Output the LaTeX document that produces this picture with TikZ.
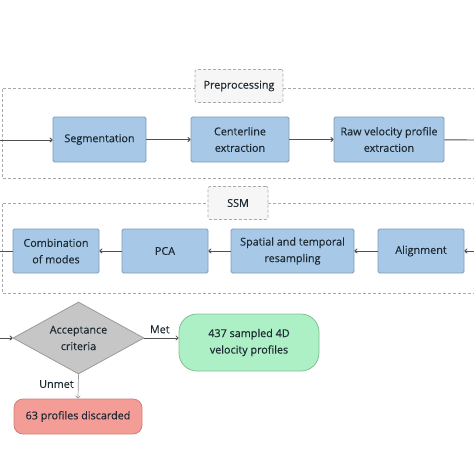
\documentclass[tikz,border=0pt]{standalone}
\usepackage{fontspec}
\setmainfont{Open Sans}[FakeBold=0.35]
\usetikzlibrary{shapes.geometric,arrows.meta}
\definecolor{bluefill}{HTML}{A7C9E7}
\definecolor{blueline}{HTML}{7E9CB8}
\definecolor{greenfill}{HTML}{AEF0C6}
\definecolor{greenline}{HTML}{80C090}
\definecolor{redfill}{HTML}{F49C96}
\definecolor{redline}{HTML}{D08078}
\definecolor{grayfill}{HTML}{C6C6C6}
\definecolor{grayline}{HTML}{9A9A9A}
\definecolor{framecol}{HTML}{AAAAAA}
\definecolor{labfill}{HTML}{F6F6F6}
\definecolor{arrcol}{HTML}{505050}
\definecolor{txt}{HTML}{1E2A33}
\tikzset{
  every node/.style={font=\fontsize{10.8}{16.5}\selectfont\color{txt}},
  procbox/.style={draw=blueline, fill=bluefill, line width=0.8pt, rounded corners=1.5pt, align=center, inner sep=0pt},
  framebox/.style={draw=framecol, dashed, line width=0.7pt, dash pattern=on 3pt off 2pt},
  labbox/.style={draw=framecol, fill=labfill, dashed, dash pattern=on 3pt off 2pt, line width=0.7pt, rounded corners=2pt, inner sep=0pt},
  flow/.style={draw=arrcol, line width=0.9pt, -{To[length=3pt,width=5pt]}},
  thinflow/.style={draw=grayline, line width=0.7pt, -{To[length=3pt,width=5pt]}},
}
\begin{document}
\begin{tikzpicture}[x=1pt,y=-1pt]
\useasboundingbox (0,0) rectangle (474,474);
% frames
\draw[framebox] (476,88) -- (2,88) -- (2,178) -- (476,178);
\draw[framebox] (476,203) -- (2,203) -- (2,293) -- (476,293);
\node[labbox, minimum width=88pt, minimum height=33pt] (lpre) at (239,86) {Preprocessing};
\node[labbox, minimum width=60pt, minimum height=33pt] (lssm) at (238,203) {SSM};
% row 1
\coordinate (in1) at (0,140);
\coordinate (out1) at (476,140);
\node[procbox, minimum width=93pt, minimum height=45pt] (seg) at (99.5,139.5) {Segmentation};
\node[procbox, minimum width=98pt, minimum height=45pt] (cen) at (240,139.5) {Centerline\\extraction};
\node[procbox, minimum width=110pt, minimum height=45pt] (raw) at (389,139.5) {Raw velocity profile\\extraction};
\draw[flow] (in1) -- (seg.west |- in1);
\draw[flow] (seg) -- (cen);
\draw[flow] (cen) -- (raw);
\draw[draw=arrcol, line width=0.9pt] (raw) -- (out1);
% row 2
\coordinate (in2) at (476,251);
\coordinate (out2) at (0,251);
\node[procbox, minimum width=86pt, minimum height=44pt] (com) at (56,251) {Combination\\of modes};
\node[procbox, minimum width=86pt, minimum height=44pt] (pca) at (165,251) {PCA};
\node[procbox, minimum width=123pt, minimum height=44pt] (spa) at (292.5,251) {Spatial and temporal\\resampling};
\node[procbox, minimum width=86pt, minimum height=44pt] (ali) at (421,251) {Alignment};
\draw[flow] (in2) -- (ali);
\draw[flow] (ali) -- (spa);
\draw[flow] (spa) -- (pca);
\draw[flow] (pca) -- (com);
\draw[draw=arrcol, line width=0.9pt] (com) -- (out2);
% row 3
\coordinate (in3) at (0,338);
\node[diamond, draw=grayline, fill=grayfill, line width=0.8pt, minimum width=131pt, minimum height=72pt, inner sep=0pt, aspect=1.8, align=center] (acc) at (78.5,338) {Acceptance\\criteria};
\node[draw=greenline, fill=greenfill, line width=0.8pt, rounded corners=18pt, minimum width=140pt, minimum height=57pt, align=center, inner sep=0pt] (ok) at (249,342.5) {437 sampled 4D\\velocity profiles};
\node[draw=redline, fill=redfill, line width=0.8pt, rounded corners=9pt, minimum width=128pt, minimum height=35pt, inner sep=0pt] (bad) at (78,416.5) {63 profiles discarded};
\draw[flow] (in3) -- (acc.west);
\draw[flow, line width=0.7pt] (acc.east) -- (ok.west |- acc.east) node[pos=0.45, above=1pt] (met) {Met};
\draw[thinflow] (acc.south) -- (bad.north) node[pos=0.4, left=1pt] (unmet) {Unmet};
\end{tikzpicture}
\end{document}
